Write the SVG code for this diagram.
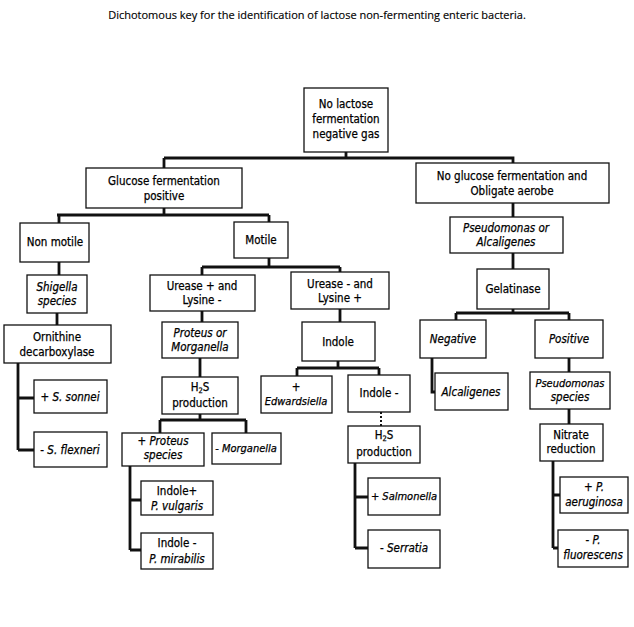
<svg xmlns="http://www.w3.org/2000/svg" width="634" height="627" viewBox="0 0 634 627">
<style>
.b rect{fill:#fff;stroke:#111;stroke-width:1.3}
text{font-family:"DejaVu Sans Condensed","Liberation Sans Narrow","DejaVu Sans",sans-serif;font-size:11.5px;fill:#000;text-anchor:middle;stroke:#000;stroke-width:0.25}
.i{font-style:italic}
#c path{fill:none;stroke:#111;stroke-width:2.8}
#c .d{stroke-width:2;stroke-dasharray:2 2}
</style>
<rect width="634" height="627" fill="#fff"/>
<text x="317" y="19" style="font-family:'Open Sans','DejaVu Sans',sans-serif;font-size:11px;stroke-width:0.15">Dichotomous key for the identification of lactose non-fermenting enteric bacteria.</text>
<g id="c">
<path d="M346 152V158M164 158H513V163M164 158V168"/>
<path d="M164 208V215M57 215H269M59 215V223M269 215V222"/>
<path d="M59 262V275M57 313V325"/>
<path d="M269 258V267M202 267H340M202 267V275M340 267V272"/>
<path d="M202 311V322M340 309V322"/>
<path d="M513 203V217M513 253V269M513 309V313M456 313H569M456 313V320M569 313V320"/>
<path d="M18 363V450M18 398H34M18 450H34"/>
<path d="M200 358V377M200 414V420M160 420H246M160 420V433M246 420V433"/>
<path d="M130 466V550M130 500H141M130 550H141"/>
<path d="M338 361V368M297 368H379M297 368V376M379 368V375"/>
<path class="d" d="M381 412V426"/>
<path d="M355 463V548M355 497H368M355 548H368"/>
<path d="M432 358V392H435"/>
<path d="M569 358V372M569 409V424"/>
<path d="M553 461V548M553 495H560M553 548H558"/>
</g>
<g id="root" class="b"><rect x="304" y="88" width="84" height="64"/><text x="346" y="108">No lactose</text><text x="346" y="123">fermentation</text><text x="346" y="138">negative gas</text></g>
<g id="glucose" class="b"><rect x="86" y="168" width="156" height="40"/><text x="164" y="185">Glucose fermentation</text><text x="164" y="200">positive</text></g>
<g id="noglucose" class="b"><rect x="416" y="163" width="193" height="40"/><text x="512" y="180">No glucose fermentation and</text><text x="512" y="195">Obligate aerobe</text></g>
<g id="nonmotile" class="b"><rect x="20" y="223" width="69" height="39"/><text x="55" y="246">Non motile</text></g>
<g id="motile" class="b"><rect x="234" y="222" width="54" height="36"/><text x="261" y="244">Motile</text></g>
<g id="pseualc" class="b"><rect x="450" y="217" width="113" height="36"/><text class="i" x="506" y="232">Pseudomonas or</text><text class="i" x="506" y="246">Alcaligenes</text></g>
<g id="shigella" class="b"><rect x="27" y="275" width="60" height="38"/><text class="i" x="57" y="291">Shigella</text><text class="i" x="57" y="305">species</text></g>
<g id="ureasep" class="b"><rect x="150" y="275" width="105" height="36"/><text x="202" y="290">Urease + and</text><text x="202" y="304">Lysine -</text></g>
<g id="ureasen" class="b"><rect x="291" y="272" width="98" height="37"/><text x="340" y="288">Urease - and</text><text x="340" y="302">Lysine +</text></g>
<g id="gelatinase" class="b"><rect x="477" y="269" width="72" height="40"/><text x="513" y="293">Gelatinase</text></g>
<g id="ornithine" class="b"><rect x="4" y="325" width="107" height="38"/><text x="57" y="341">Ornithine</text><text x="57" y="356">decarboxylase</text></g>
<g id="protmorg" class="b"><rect x="162" y="322" width="76" height="36"/><text class="i" x="200" y="337">Proteus or</text><text class="i" x="200" y="351">Morganella</text></g>
<g id="indole" class="b"><rect x="302" y="322" width="73" height="39"/><text x="338" y="346">Indole</text></g>
<g id="negative" class="b"><rect x="420" y="320" width="66" height="38"/><text class="i" x="453" y="343">Negative</text></g>
<g id="positive" class="b"><rect x="535" y="320" width="68" height="38"/><text class="i" x="569" y="343">Positive</text></g>
<g id="sonnei" class="b"><rect x="34" y="380" width="73" height="33"/><text x="70" y="401">+ <tspan class="i">S. sonnei</tspan></text></g>
<g id="flexneri" class="b"><rect x="34" y="432" width="73" height="35"/><text x="70" y="454">- <tspan class="i">S. flexneri</tspan></text></g>
<g id="h2s1" class="b"><rect x="162" y="377" width="76" height="37"/><text x="200" y="391">H<tspan font-size="7.5" dy="2">2</tspan><tspan dy="-2">S</tspan></text><text x="200" y="407">production</text></g>
<g id="edwardsiella" class="b"><rect x="261" y="376" width="71" height="37"/><text x="296" y="391">+</text><text class="i" x="296" y="405" style="font-size:11px">Edwardsiella</text></g>
<g id="indoleneg" class="b"><rect x="348" y="375" width="62" height="37"/><text x="379" y="397">Indole -</text></g>
<g id="alcaligenes" class="b"><rect x="435" y="373" width="73" height="37"/><text class="i" x="471" y="396">Alcaligenes</text></g>
<g id="pseudomonas" class="b"><rect x="530" y="372" width="80" height="37"/><text class="i" x="570" y="387" style="font-size:11px">Pseudomonas</text><text class="i" x="570" y="401">species</text></g>
<g id="proteus" class="b"><rect x="122" y="433" width="82" height="33"/><text x="163" y="445">+ <tspan class="i">Proteus</tspan></text><text class="i" x="163" y="459">species</text></g>
<g id="morganella" class="b"><rect x="212" y="433" width="69" height="31"/><text x="246" y="452" style="font-size:11px">- <tspan class="i">Morganella</tspan></text></g>
<g id="h2s2" class="b"><rect x="348" y="426" width="72" height="37"/><text x="384" y="439">H<tspan font-size="7.5" dy="2">2</tspan><tspan dy="-2">S</tspan></text><text x="384" y="456">production</text></g>
<g id="nitrate" class="b"><rect x="540" y="424" width="63" height="37"/><text x="571" y="439">Nitrate</text><text x="571" y="453">reduction</text></g>
<g id="vulgaris" class="b"><rect x="141" y="481" width="72" height="34"/><text x="177" y="495">Indole+</text><text class="i" x="177" y="510">P. vulgaris</text></g>
<g id="salmonella" class="b"><rect x="368" y="478" width="72" height="37"/><text x="404" y="500" style="font-size:11px">+ <tspan class="i">Salmonella</tspan></text></g>
<g id="aeruginosa" class="b"><rect x="560" y="477" width="68" height="36"/><text x="594" y="491">+ <tspan class="i">P.</tspan></text><text class="i" x="594" y="506">aeruginosa</text></g>
<g id="mirabilis" class="b"><rect x="141" y="533" width="72" height="36"/><text x="177" y="547">Indole -</text><text class="i" x="177" y="563">P. mirabilis</text></g>
<g id="serratia" class="b"><rect x="368" y="530" width="72" height="38"/><text x="404" y="552">- <tspan class="i">Serratia</tspan></text></g>
<g id="fluorescens" class="b"><rect x="558" y="530" width="70" height="37"/><text x="593" y="544">- <tspan class="i">P.</tspan></text><text class="i" x="593" y="559">fluorescens</text></g>
</svg>
